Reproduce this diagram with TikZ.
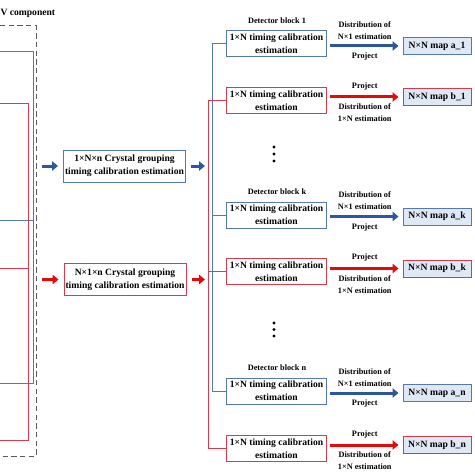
\documentclass[tikz,border=0pt]{standalone}
\usepackage{fontspec}
\setmainfont{Liberation Serif}
\usetikzlibrary{arrows.meta,positioning}

\definecolor{lineblue}{RGB}{84,120,176}
\definecolor{arrblue}{RGB}{44,86,160}
\definecolor{linered}{RGB}{216,58,74}
\definecolor{arrred}{RGB}{232,8,8}
\definecolor{mapfill}{RGB}{223,232,245}

\tikzset{every picture/.style={line width=0.75pt}}
\tikzset{
  txt/.style={font=\fontsize{7.2}{10}\selectfont\bfseries, align=center, inner sep=0pt, text=black},
  lbl/.style={font=\fontsize{6.2}{9}\selectfont\bfseries, align=center, inner sep=0pt, text=black},
  blkbox/.style={txt, draw, minimum width=75pt, minimum height=19.5pt},
  grpbox/.style={txt, draw, minimum width=91.5pt, minimum height=24pt},
  mapbox/.style={txt, draw, fill=mapfill, minimum width=51pt, minimum height=12.75pt},
  fatarrow/.style={line width=2.25pt, -{Triangle[length=4.5pt,width=7pt]}},
  barrow/.style={fatarrow, arrblue},
  rarrow/.style={fatarrow, arrred}
}

\begin{document}
\begin{tikzpicture}[x=0.75pt,y=0.75pt,yscale=-1,xscale=1]
	\useasboundingbox (0,0) rectangle (474,474);

	%Component box (cut at left edge)
	\node[txt, anchor=west] (cmplbl) at (0,13) {V component};
	\draw [gray!70!black, dash pattern=on 4pt off 2.5pt]    (0,26) -- (36,26) -- (36,456) -- (0,456) ;
	\coordinate (cmpR) at (36,0);
	%Straight Lines
	\draw [lineblue]    (0,52) -- (33,52) -- (33,383) -- (0,383) ;
	\draw [lineblue]    (0,220) -- (33,220) ;
	\draw [linered]    (0,104) -- (28,104) -- (28,440) -- (0,440) ;
	\draw [linered]    (0,268) -- (28,268) ;

	%Crystal grouping boxes
	\node[grpbox, draw=lineblue] (grpA) at (124.5,166) {1×N×n Crystal grouping\\timing calibration estimation};
	\node[grpbox, draw=linered] (grpB) at (125,279.5) {N×1×n Crystal grouping\\timing calibration estimation};

	%Detector blocks
	\node[blkbox, draw=lineblue] (blkA1) at (276.5,44) {1×N timing calibration\\estimation};
	\node[blkbox, draw=linered] (blkB1) at (276.5,101) {1×N timing calibration\\estimation};
	\node[blkbox, draw=lineblue] (blkAk) at (276.5,215) {1×N timing calibration\\estimation};
	\node[blkbox, draw=linered] (blkBk) at (276.5,271.5) {1×N timing calibration\\estimation};
	\node[blkbox, draw=lineblue] (blkAn) at (276.5,391) {1×N timing calibration\\estimation};
	\node[blkbox, draw=linered] (blkBn) at (276.5,448.5) {1×N timing calibration\\estimation};
	\node[lbl] (det1) at (277,21) {Detector block 1};
	\node[lbl] (detk) at (277,192) {Detector block k};
	\node[lbl] (detn) at (277,368) {Detector block n};

	%Maps
	\node[mapbox, draw=lineblue] (mapA1) at (437,46) {N×N map a\_1};
	\node[mapbox, draw=linered] (mapB1) at (437,97) {N×N map b\_1};
	\node[mapbox, draw=lineblue] (mapAk) at (437,216.5) {N×N map a\_k};
	\node[mapbox, draw=linered] (mapBk) at (437,268.5) {N×N map b\_k};
	\node[mapbox, draw=lineblue] (mapAn) at (437,393) {N×N map a\_n};
	\node[mapbox, draw=linered] (mapBn) at (437,445) {N×N map b\_n};

	%Dots
	\foreach \y in {147,154,161,323,329.5,336}
		\fill (274,\y) circle (1.3pt);

	%Tree lines
	\coordinate (busA) at (212,0);
	\coordinate (busB) at (208,0);
	\draw [lineblue]    (blkA1.west) -- (blkA1.west -| busA) -- (blkAn.west -| busA) -- (blkAn.west) ;
	\draw [lineblue]    (blkAk.west -| busA) -- (blkAk.west) ;
	\draw [linered]    (blkB1.west) -- (blkB1.west -| busB) -- (blkBn.west -| busB) -- (blkBn.west) ;
	\draw [linered]    (blkBk.west -| busB) -- (blkBk.west) ;

	%Arrows in and out of grouping boxes
	\draw [barrow, shorten <=4.5pt, shorten >=3.75pt]    (grpA.west -| cmpR) -- (grpA.west) ;
	\draw [rarrow, shorten <=4.5pt, shorten >=3.75pt]    (grpB.west -| cmpR) -- (grpB.west) ;
	\draw [barrow, shorten <=3.75pt, shorten >=5.25pt]    (grpA.east) -- (grpA.east -| busA) ;
	\draw [rarrow, shorten <=3.75pt, shorten >=2.25pt]    (grpB.east) -- (grpB.east -| busB) ;

	%Arrows to maps
	\foreach \b/\m in {A1/A1,Ak/Ak,An/An}
		\draw [barrow, shorten <=2.25pt, shorten >=3pt]    (blk\b.east |- map\m) -- (map\m.west)
			node[lbl, midway, above=4pt] {Distribution of\\N×1 estimation}
			node[lbl, midway, below=4pt] {Project} ;
	\foreach \b/\m in {B1/B1,Bk/Bk,Bn/Bn}
		\draw [rarrow, shorten <=2.25pt, shorten >=3pt]    (blk\b.east |- map\m) -- (map\m.west)
			node[lbl, midway, above=4pt] {Project}
			node[lbl, midway, below=4pt] {Distribution of\\1×N estimation} ;

\end{tikzpicture}
\end{document}
